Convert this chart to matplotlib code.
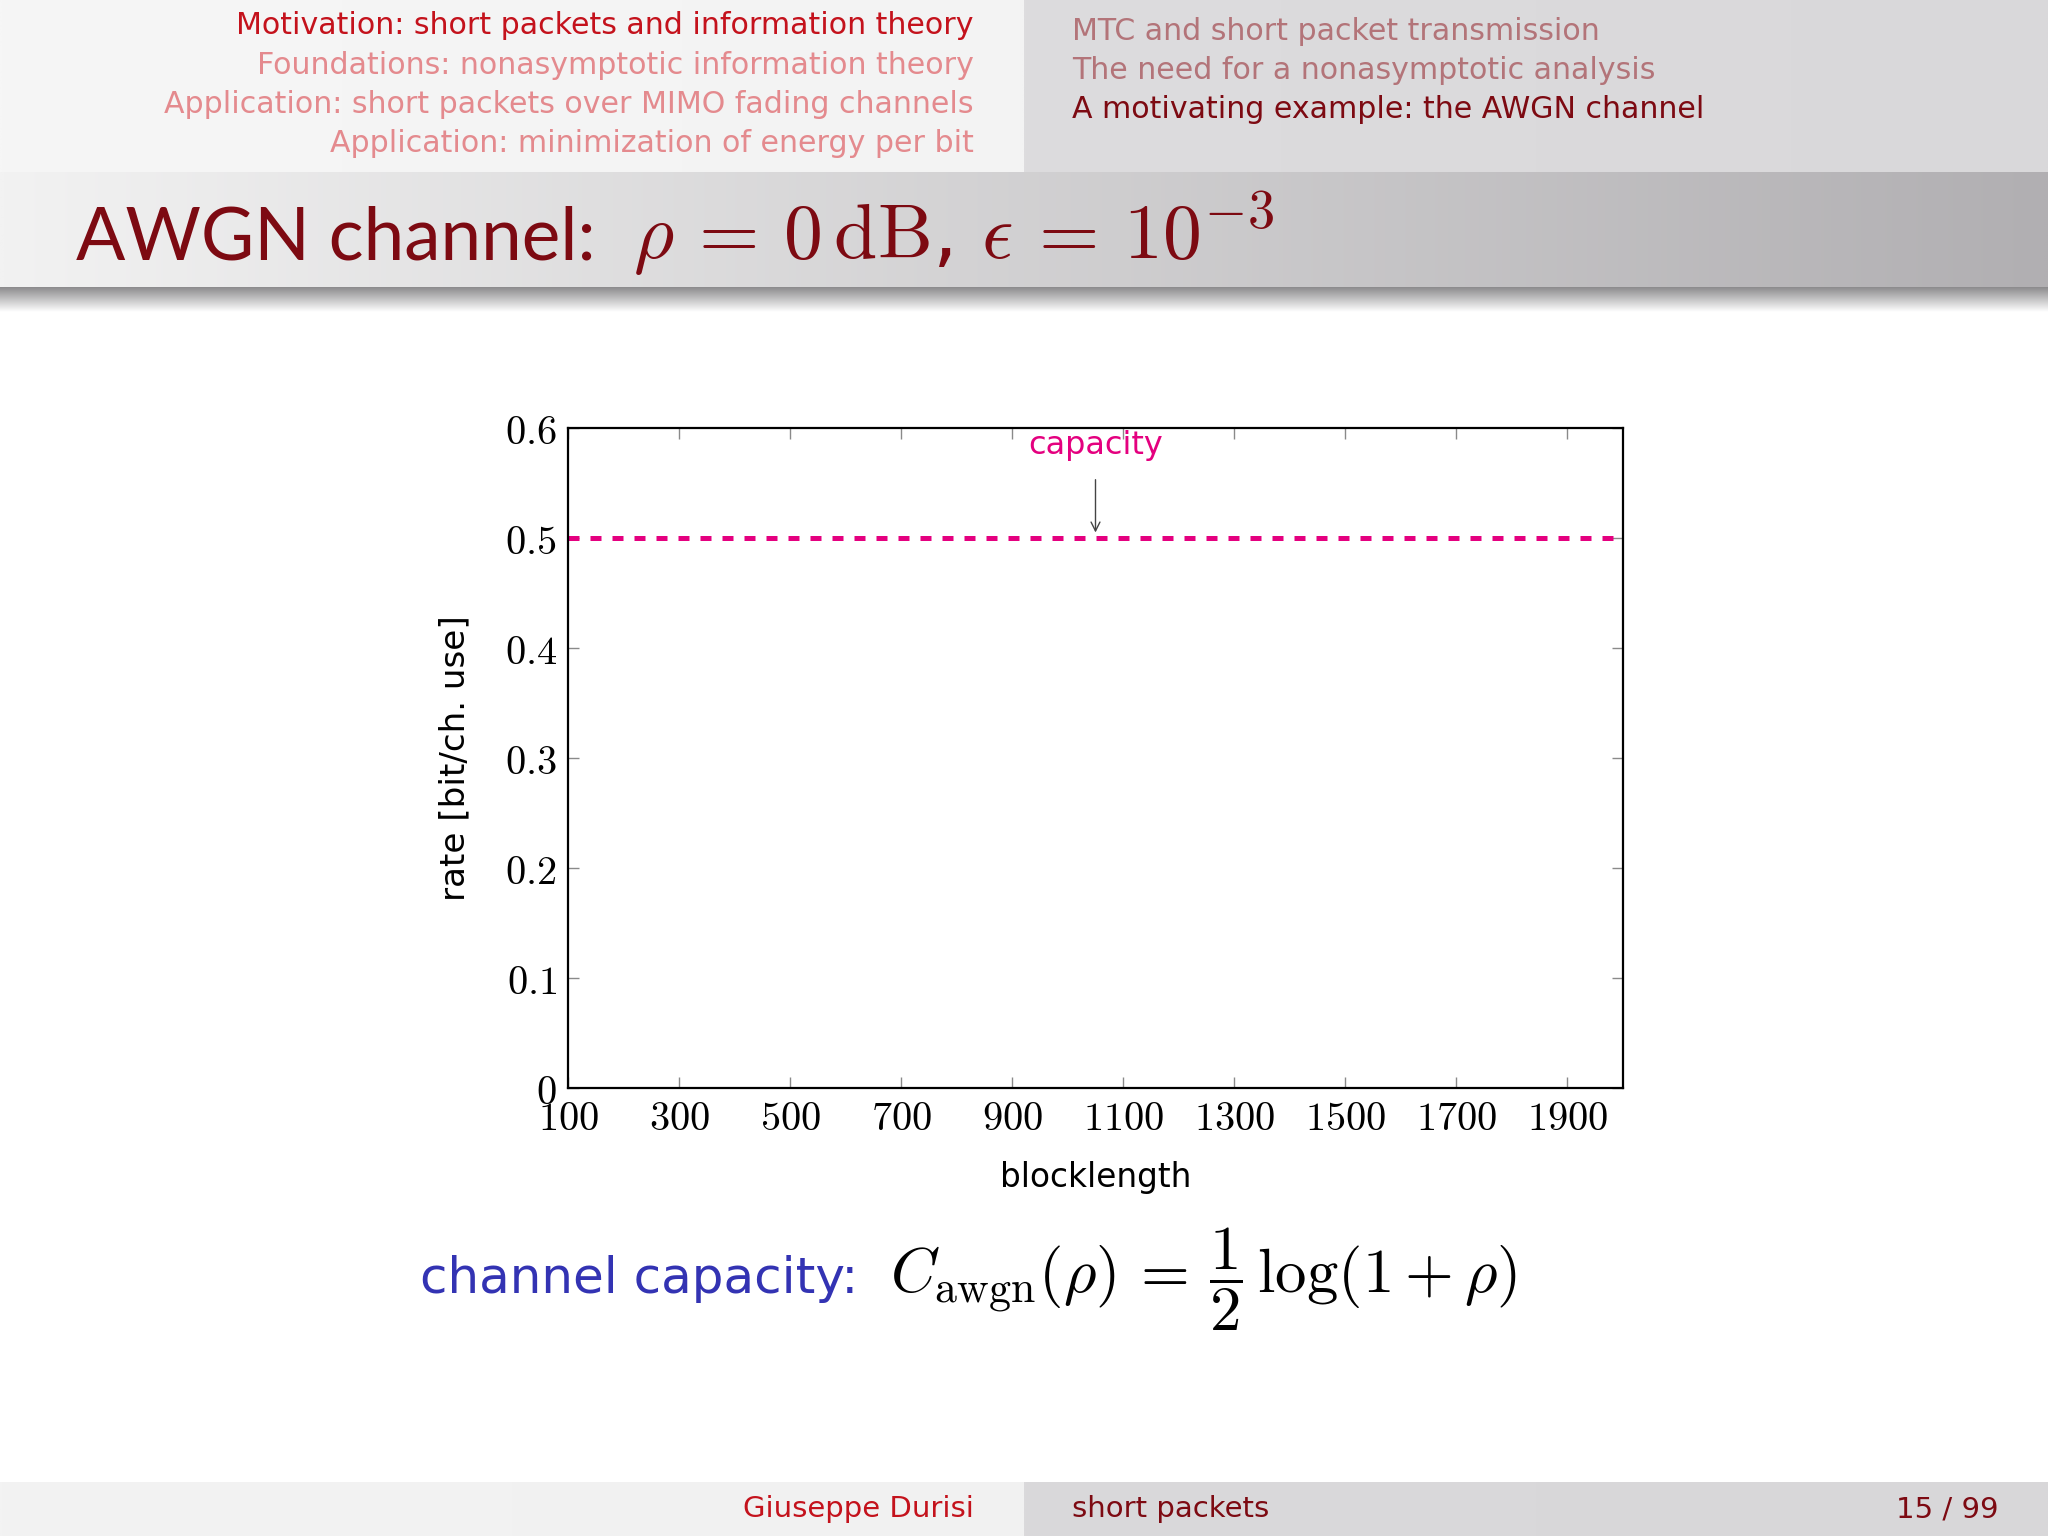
import numpy as np
import matplotlib as mpl
import matplotlib.pyplot as plt

# -----------------------------------------------------------------------------
# Data.
# -----------------------------------------------------------------------------

blocklengthRange = [100, 2000]
xTicks = [100, 300, 500, 700, 900, 1100, 1300, 1500, 1700, 1900]
yTicks = [0, 0.1, 0.2, 0.3, 0.4, 0.5, 0.6]
yTickLabels = ["0", "0.1", "0.2", "0.3", "0.4", "0.5", "0.6"]
capacityRate = [0.5, 0.5]          # C_awgn at rho = 0 dB, in bit/ch. use
capacityLabelX = 1050
capacityLabelY = 0.584
capacityArrowY = [0.553, 0.505]

sections = [
    "Motivation: short packets and information theory",
    "Foundations: nonasymptotic information theory",
    "Application: short packets over MIMO fading channels",
    "Application: minimization of energy per bit",
]
activeSection = 0
subsections = [
    "MTC and short packet transmission",
    "The need for a nonasymptotic analysis",
    "A motivating example: the AWGN channel",
]
activeSubsection = 2

# -----------------------------------------------------------------------------
# Style.
# -----------------------------------------------------------------------------

W, H = 2048, 1536
DPI = 200
SANS = ["DejaVu Sans"]
TITLE_SANS = ["Lato", "DejaVu Sans"]
DARKRED = "#7d0a12"
RED = "#c4121c"
PINK = "#e48a8e"
DUSTY = "#b37479"
BLUE = "#3333b3"
MAGENTA = "#e4007f"

mpl.rcParams["mathtext.fontset"] = "cm"
mpl.rcParams["font.family"] = SANS


def hGradient(ax, x0, x1, y0, y1, c0, c1):
    """Fills a pixel box with a left-to-right colour gradient."""
    c0 = np.array(mpl.colors.to_rgb(c0))
    c1 = np.array(mpl.colors.to_rgb(c1))
    t = np.linspace(0, 1, 256)[None, :, None]
    img = c0 + (c1 - c0) * t
    ax.imshow(img, extent=(x0, x1, y1, y0), aspect="auto", interpolation="bilinear")


def vGradient(ax, x0, x1, y0, y1, c0, c1):
    """Fills a pixel box with a top-to-bottom colour gradient."""
    c0 = np.array(mpl.colors.to_rgb(c0))
    c1 = np.array(mpl.colors.to_rgb(c1))
    t = np.linspace(0, 1, 64)[:, None, None]
    img = c0 + (c1 - c0) * t
    ax.imshow(img, extent=(x0, x1, y1, y0), aspect="auto", interpolation="bilinear")


fig = plt.figure(figsize=(W / DPI, H / DPI), dpi=DPI)

# background layer in pixel coordinates
bg = fig.add_axes([0, 0, 1, 1])
bg.set_xlim(0, W)
bg.set_ylim(H, 0)
bg.set_axis_off()

# headline navigation
hGradient(bg, 0, 1024, 0, 172, "#f6f6f6", "#f3f3f3")
hGradient(bg, 1024, W, 0, 172, "#dddcde", "#d9d8da")
for i, s in enumerate(sections):
    bg.text(974, 26 + 39.2 * i, s, ha="right", va="center", fontsize=10.8,
            color=RED if i == activeSection else PINK)
for i, s in enumerate(subsections):
    bg.text(1072, 31 + 39.2 * i, s, ha="left", va="center", fontsize=10.8,
            color=DARKRED if i == activeSubsection else DUSTY)

# frame title
hGradient(bg, 0, W, 172, 287, "#f2f2f2", "#b1afb2")
vGradient(bg, 0, W, 287, 312, "#8c8b8d", "#ffffff")
bg.text(76, 259, "AWGN channel:", ha="left", va="baseline", fontsize=26.3,
        color=DARKRED, family=TITLE_SANS)
bg.text(633, 259, r"$\rho\,=\,0\,\mathrm{dB}$, $\epsilon\,=\,10^{-3}$",
        ha="left", va="baseline", fontsize=28, color=DARKRED)

# footline
hGradient(bg, 0, 1024, 1482, H, "#f3f3f3", "#f1f1f1")
hGradient(bg, 1024, W, 1482, H, "#dad9db", "#d8d7d9")
bg.text(974, 1509, "Giuseppe Durisi", ha="right", va="center", fontsize=10.5, color=RED)
bg.text(1072, 1509, "short packets", ha="left", va="center", fontsize=10.5, color=DARKRED)
bg.text(1998, 1509, "15 / 99", ha="right", va="center", fontsize=10.5, color=DARKRED)

# formula under the plot
bg.text(420, 1293, "channel capacity:", ha="left", va="baseline", fontsize=18, color=BLUE)
bg.text(890, 1293, r"$C_{\mathrm{awgn}}(\rho)\,=\,\dfrac{1}{2}\,\log(1+\rho)$",
        ha="left", va="baseline", fontsize=22.6, color="black")

# -----------------------------------------------------------------------------
# The plot itself.
# -----------------------------------------------------------------------------

ax = fig.add_axes([568 / W, 1 - 1088 / H, (1623 - 568) / W, (1088 - 428) / H])
ax.set_facecolor("white")
ax.plot(blocklengthRange, capacityRate, color=MAGENTA, lw=1.8,
        linestyle=(0, (2.2, 2.2)), clip_on=False)
ax.text(capacityLabelX, capacityLabelY, "capacity", ha="center", va="center",
        fontsize=11.5, color=MAGENTA)
ax.annotate("", xy=(capacityLabelX, capacityArrowY[1]),
            xytext=(capacityLabelX, capacityArrowY[0]),
            arrowprops=dict(arrowstyle="->", lw=0.5, color="#444444",
                            shrinkA=0, shrinkB=0, mutation_scale=8))

ax.set_xlim(*blocklengthRange)
ax.set_ylim(yTicks[0], yTicks[-1])
ax.set_xticks(xTicks)
ax.set_xticklabels(["$%d$" % v for v in xTicks])
ax.set_yticks(yTicks)
ax.set_yticklabels(["$%s$" % v for v in yTickLabels])
ax.tick_params(direction="in", length=3.8, width=0.5, color="#8a8a8a",
               top=True, right=True, labelsize=14.5, pad=4)
for spine in ax.spines.values():
    spine.set_linewidth(0.8)
ax.set_xlabel("blocklength", fontsize=11.8, labelpad=8)
ax.set_ylabel("rate [bit/ch. use]", fontsize=12.3, labelpad=12)

fig.savefig("out.png", dpi=DPI)
